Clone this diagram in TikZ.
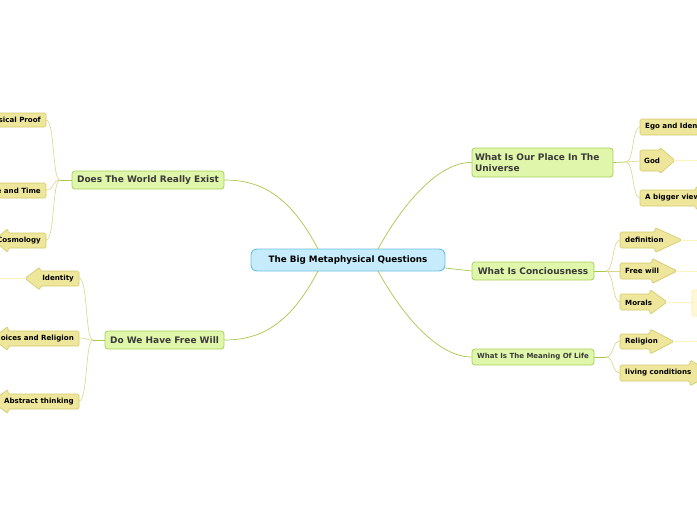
\documentclass[tikz,border=0pt]{standalone}
\usepackage{fontspec}
\setmainfont{DejaVu Sans}
\definecolor{lf}{HTML}{EEE69A}
\definecolor{lb}{HTML}{D4CC70}
\definecolor{mf}{HTML}{E0F6AA}
\definecolor{mb}{HTML}{A8D05A}
\definecolor{cf}{HTML}{C6ECFB}
\definecolor{cb}{HTML}{6CBEE2}
\definecolor{mc}{HTML}{A8C84A}
\definecolor{lc}{HTML}{DCD68A}
\definecolor{tl}{HTML}{FFF4BE}
\definecolor{tx}{HTML}{3A3A3A}
\newcommand\myRA[6]{% x1 y1 x2 y2 tip halfheight
 \filldraw[fill=lf,draw=lb,line width=0.7pt,rounded corners=1.5pt] (#1,#2)--(#3,#2)--(#3,{(#2+#4)/2-#6})--(#5,{(#2+#4)/2})--(#3,{(#2+#4)/2+#6})--(#3,#4)--(#1,#4)--cycle;}
\begin{document}
\begin{tikzpicture}[x=1pt,y=-1pt,
 mainbox/.style={draw=mb,fill=mf,line width=0.8pt,rounded corners=3pt,inner sep=0pt,text=tx,font=\bfseries\fontsize{9}{10.5}\selectfont},
 leaft/.style={inner sep=0pt,font=\bfseries\fontsize{7.1}{8}\selectfont,text=black},
 mline/.style={draw=mc,line width=0.7pt},
 lline/.style={draw=lc,line width=0.6pt},
 tline/.style={draw=tl,line width=0.8pt}]
\fill[white] (0,0) rectangle (697,520);
\useasboundingbox (0,0) rectangle (697,520);
% main nodes
\node[draw=cb,fill=cf,line width=0.9pt,rounded corners=6pt,minimum width=194pt,minimum height=22pt,inner sep=0pt,font=\bfseries\fontsize{8.8}{10}\selectfont,text=black] (c) at (348,260) {The Big Metaphysical Questions};
\node[mainbox,minimum width=152pt,minimum height=18pt] (w) at (148,180) {Does The World Really Exist};
\node[mainbox,minimum width=119pt,minimum height=18pt] (f) at (164.5,340) {Do We Have Free Will};
\node[mainbox,minimum width=141pt,minimum height=29pt,align=left,text width=135pt] (p) at (542.5,162.5) {What Is Our Place In The\\Universe};
\node[mainbox,minimum width=122pt,minimum height=18pt] (k) at (533,271) {What Is Conciousness};
\node[mainbox,minimum width=122pt,minimum height=16pt,font=\bfseries\fontsize{7}{8}\selectfont] (m) at (533,357) {What Is The Meaning Of Life};
% main connectors
\draw[mline] (318,249) .. controls (290,195) and (260,180) .. (w.east);
\draw[mline] (318,271) .. controls (290,325) and (260,340) .. (f.east);
\draw[mline] (378,249) .. controls (405,200) and (440,162) .. (p.west);
\draw[mline] (445,268) -- (k.west);
\draw[mline] (378,271) .. controls (405,320) and (440,357) .. (m.west);
% left leaves: Does the World
\filldraw[fill=lf,draw=lb,line width=0.7pt,rounded corners=1.5pt] (-5,113) rectangle (46,127);
\node[leaft,anchor=east] (l1) at (41,120) {sical Proof};
\filldraw[fill=lf,draw=lb,line width=0.7pt,rounded corners=1.5pt] (-5,183) rectangle (46,198);
\node[leaft,anchor=east] (l2) at (41,190.5) {e and Time};
\myRA{46}{233}{8}{248}{-6}{12}
\node[leaft,anchor=east] (l3) at (41,240.5) {Cosmology};
\coordinate (wj) at (60,180);
\draw[mline] (w.west) -- (wj);
\draw[lline] (wj) .. controls (52,180) and (55,120) .. (46,120);
\draw[lline] (wj) .. controls (52,180) and (55,190) .. (46,190);
\draw[lline] (wj) .. controls (52,180) and (55,240) .. (46,240);
% left leaves: Free will
\myRA{79}{271}{40}{286}{25}{11.5}
\node[leaft,anchor=east] (l4) at (74,278.5) {Identity};
\draw[tline] (25,278.5) -- (0,278.5);
\myRA{79}{331}{8}{346}{-8}{12}
\node[leaft,anchor=east] (l5) at (74,338.5) {hoices and Religion};
\myRA{79}{394}{8}{409}{-8}{12}
\node[leaft,anchor=east] (l6) at (74,401.5) {Abstract thinking};
\coordinate (fj) at (93,340);
\draw[mline] (f.west) -- (fj);
\draw[lline] (fj) .. controls (85,340) and (88,278) .. (79,278);
\draw[lline] (fj) .. controls (85,340) and (88,338) .. (79,338);
\draw[lline] (fj) .. controls (85,340) and (88,401) .. (79,401);
% right leaves: Place
\filldraw[fill=lf,draw=lb,line width=0.7pt,rounded corners=1.5pt] (640,119) rectangle (705,135);
\node[leaft,anchor=west] (r1) at (645,127) {Ego and Iden};
\myRA{640}{150}{660}{171}{675}{13}
\node[leaft,anchor=west] (r2) at (644,160.5) {God};
\draw[tline] (675,160.5) -- (697,160.5);
\myRA{640}{190}{696}{206}{712}{12}
\node[leaft,anchor=west] (r3) at (645,198) {A bigger view};
\coordinate (pj) at (626,162);
\draw[mline] (p.east) -- (pj);
\draw[lline] (pj) .. controls (634,162) and (632,127) .. (640,127);
\draw[lline] (pj) -- (640,161);
\draw[lline] (pj) .. controls (634,162) and (632,198) .. (640,198);
% Conciousness
\myRA{620}{232}{655}{248}{682}{12.5}
\node[leaft,anchor=west] (r4) at (625,240) {definition};
\draw[tline] (682,240) -- (697,240);
\myRA{620}{263}{652}{279}{677}{12.5}
\node[leaft,anchor=west] (r5) at (625,271) {Free will};
\draw[tline] (677,271) -- (697,271);
\myRA{620}{294}{650}{310}{667}{12.5}
\node[leaft,anchor=west] (r6) at (625,302.5) {Morals};
\draw[tline] (667,302.5) -- (692,302.5);
\filldraw[fill=tl!60,draw=tl!90!orange,line width=0.6pt,rounded corners=2pt] (692,290) rectangle (705,316);
\coordinate (kj) at (606,271);
\draw[mline] (k.east) -- (kj);
\draw[lline] (kj) .. controls (614,271) and (612,240) .. (620,240);
\draw[lline] (kj) -- (620,271);
\draw[lline] (kj) .. controls (614,271) and (612,302) .. (620,302);
% Meaning
\myRA{620}{334}{650}{349}{674}{12.5}
\node[leaft,anchor=west] (r7) at (625,341.5) {Religion};
\draw[tline] (674,341.5) -- (697,341.5);
\myRA{620}{365}{690}{381}{712}{13}
\node[leaft,anchor=west] (r8) at (625,373) {living conditions};
\coordinate (mj) at (606,357);
\draw[mline] (m.east) -- (mj);
\draw[lline] (mj) .. controls (614,357) and (612,341) .. (620,341);
\draw[lline] (mj) .. controls (614,357) and (612,373) .. (620,373);
\end{tikzpicture}
\end{document}
